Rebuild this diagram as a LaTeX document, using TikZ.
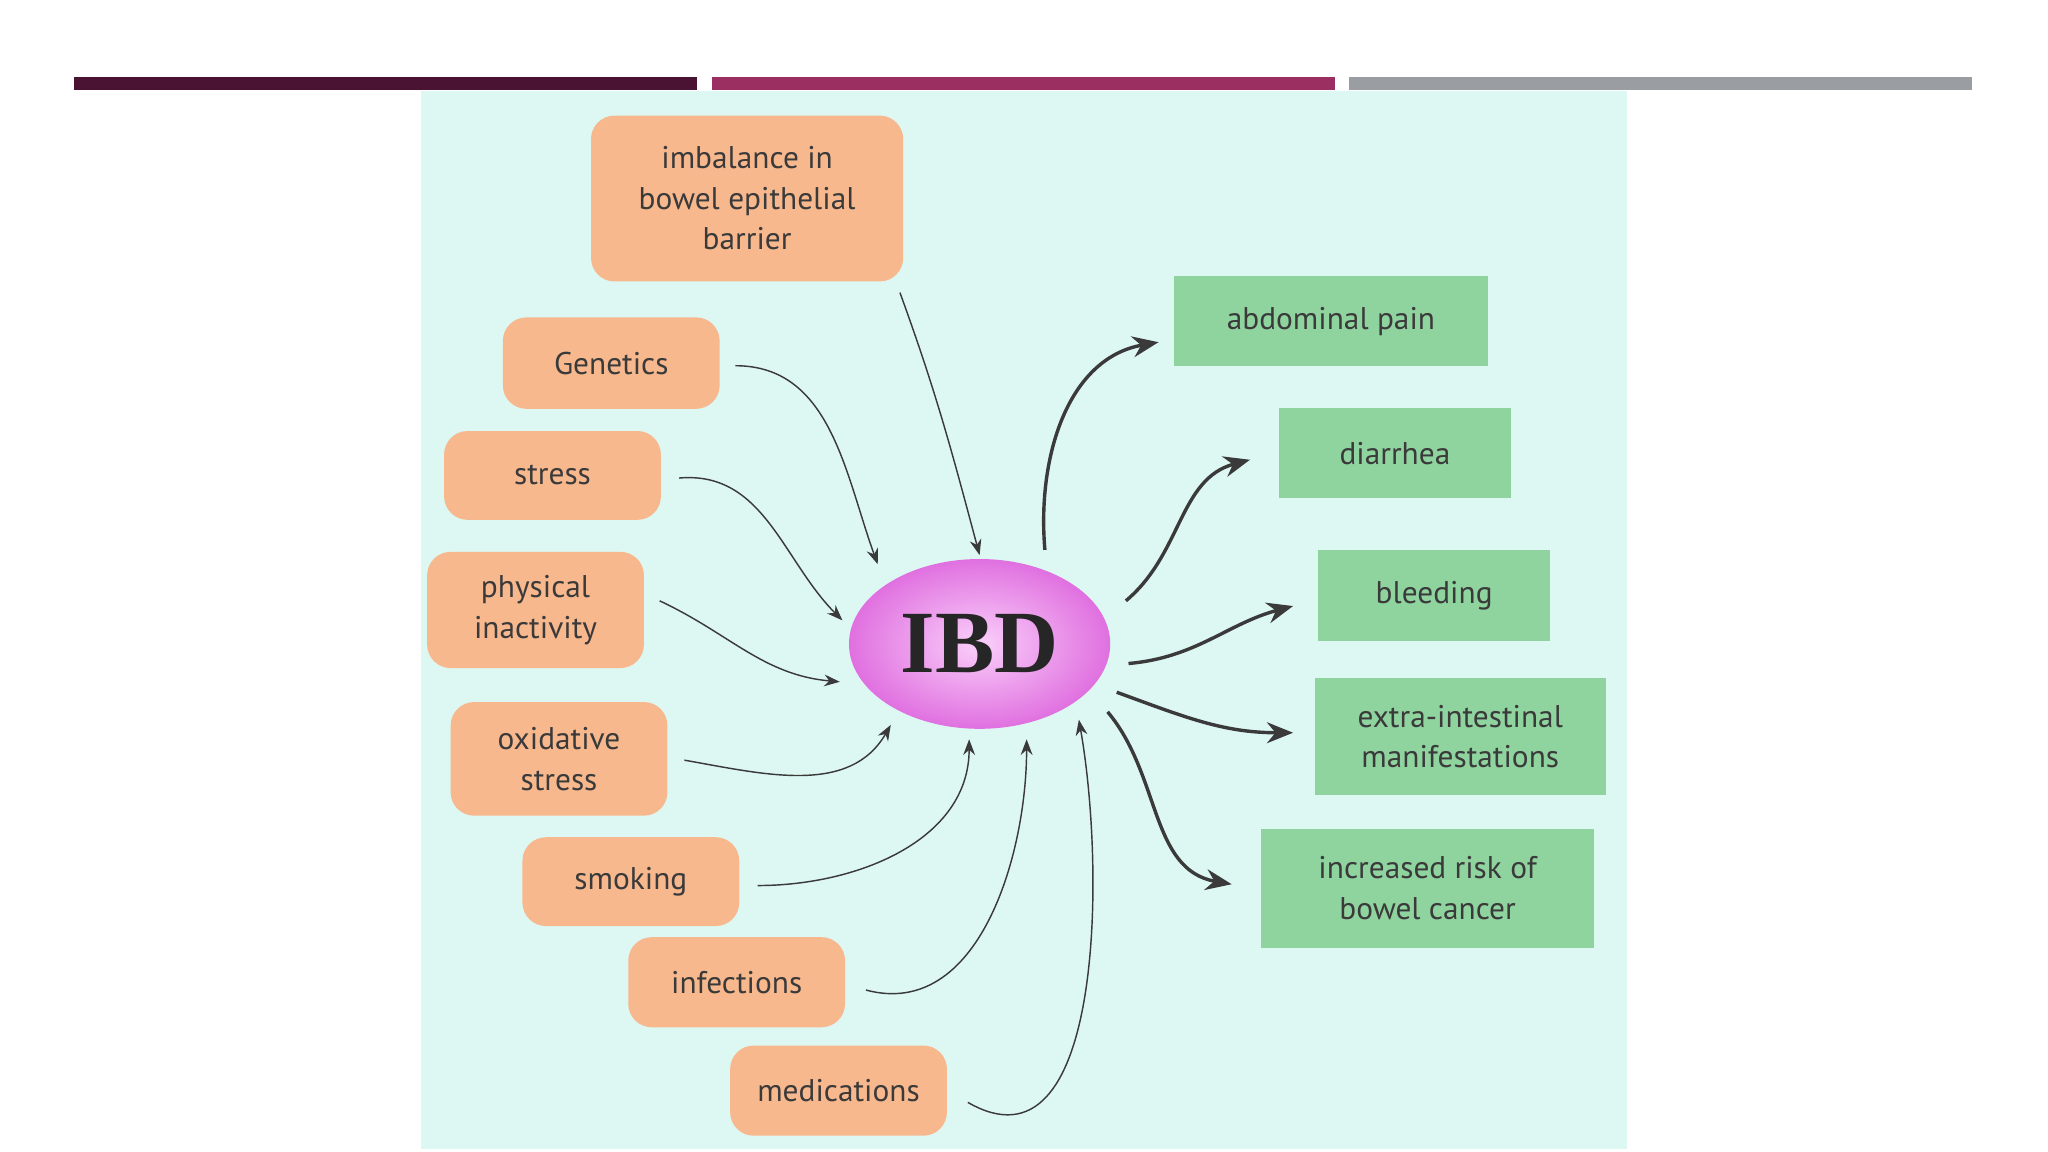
\documentclass[tikz,border=0pt]{standalone}
\usepackage{fontspec}
\setmainfont{PT Sans}
\newfontfamily\ibdfont{Liberation Serif}
\usetikzlibrary{arrows.meta,shapes.geometric}
\definecolor{bgc}{HTML}{DDF7F3}
\definecolor{orn}{HTML}{F8B88E}
\definecolor{grn}{HTML}{8FD39F}
\definecolor{txt}{HTML}{3A3A3A}
\definecolor{barA}{HTML}{4A1233}
\definecolor{barB}{HTML}{9C2F62}
\definecolor{barC}{HTML}{9A9EA3}
\definecolor{pinkO}{HTML}{E070E0}
\definecolor{pinkI}{HTML}{FAD0FA}
\begin{document}
\begin{tikzpicture}[x=1pt,y=-1pt,
  cause/.style={fill=orn,rounded corners=18pt,text=txt,font=\fontsize{24}{31}\selectfont,align=center,inner sep=0pt},
  effect/.style={fill=grn,text=txt,font=\fontsize{24}{31}\selectfont,align=center,inner sep=0pt},
  inarr/.style={draw=txt,line width=1.1pt,-{Stealth[length=12pt,width=9pt]}},
  outarr/.style={draw=txt,line width=2.6pt,-{Stealth[length=20pt,width=16pt]}}]
\useasboundingbox (0,0) rectangle (1568,882);
\fill[white] (0,0) rectangle (1568,882);
\fill[barA] (57,59) rectangle (534,69);
\fill[barB] (545,59) rectangle (1022,69);
\fill[barC] (1033,59) rectangle (1510,69);
\fill[bgc] (322,70) rectangle (1246,880);
% causes
\node[cause,minimum width=239pt,minimum height=127pt] (imb) at (572,152) {imbalance in\\bowel epithelial\\barrier};
\node[cause,minimum width=166pt,minimum height=70pt] (gen) at (468,278) {Genetics};
\node[cause,minimum width=166pt,minimum height=68pt] (str) at (423,364) {stress};
\node[cause,minimum width=166pt,minimum height=89pt] (phy) at (410,467) {physical\\inactivity};
\node[cause,minimum width=166pt,minimum height=87pt] (oxi) at (428,581) {oxidative\\stress};
\node[cause,minimum width=166pt,minimum height=68pt] (smo) at (483,675) {smoking};
\node[cause,minimum width=166pt,minimum height=69pt] (inf) at (564,752) {infections};
\node[cause,minimum width=166pt,minimum height=69pt] (med) at (642,835) {medications};
% IBD
\node[ellipse,minimum width=200pt,minimum height=130pt,inner color=pinkI,outer color=pinkO,font=\ibdfont\bfseries\fontsize{68}{70}\selectfont,text=black!85] (ibd) at (750,493) {IBD};
% effects
\node[effect,minimum width=240pt,minimum height=69pt] (abd) at (1019,246) {abdominal pain};
\node[effect,minimum width=177pt,minimum height=69pt] (dia) at (1068,347) {diarrhea};
\node[effect,minimum width=178pt,minimum height=70pt] (ble) at (1098,456) {bleeding};
\node[effect,minimum width=223pt,minimum height=90pt] (ext) at (1118,564) {extra-intestinal\\manifestations};
\node[effect,minimum width=255pt,minimum height=91pt] (inc) at (1093,680) {increased risk of\\bowel cancer};
% endpoints
\coordinate (s1) at (689,224); \coordinate (e1) at (750,425);
\coordinate (s2) at (563,280); \coordinate (e2) at (672,432);
\coordinate (s3) at (520,366); \coordinate (e3) at (645,475);
\coordinate (s4) at (505,460); \coordinate (e4) at (643,522);
\coordinate (s5) at (524,582); \coordinate (e5) at (682,555);
\coordinate (s6) at (580,678); \coordinate (e6) at (742,566);
\coordinate (s7) at (663,758); \coordinate (e7) at (786,566);
\coordinate (s8) at (741,844); \coordinate (e8) at (826,551);
\draw[inarr] (s1) to[out=-70,in=105] (e1);
\draw[inarr] (s2) to[out=0,in=110] (e2);
\draw[inarr] (s3) to[out=5,in=135] (e3);
\draw[inarr] (s4) to[out=-25,in=175] (e4);
\draw[inarr] (s5) to[out=-10,in=-120] (e5);
\draw[inarr] (s6) to[out=0,in=-90] (e6);
\draw[inarr] (s7) to[out=-15,in=-90] (e7);
\draw[inarr] (s8) to[out=-30,in=-80] (e8);
\coordinate (o1) at (800,421); \coordinate (t1) at (887,262);
\coordinate (o2) at (862,460); \coordinate (t2) at (957,352);
\coordinate (o3) at (864,508); \coordinate (t3) at (990,464);
\coordinate (o4) at (855,530); \coordinate (t4) at (990,561);
\coordinate (o5) at (848,545); \coordinate (t5) at (943,677);
\draw[outarr] (o1) to[out=95,in=190] (t1);
\draw[outarr] (o2) to[out=40,in=195] (t2);
\draw[outarr] (o3) to[out=5,in=195] (t3);
\draw[outarr] (o4) to[out=-20,in=180] (t4);
\draw[outarr] (o5) to[out=-50,in=170] (t5);
\end{tikzpicture}
\end{document}
